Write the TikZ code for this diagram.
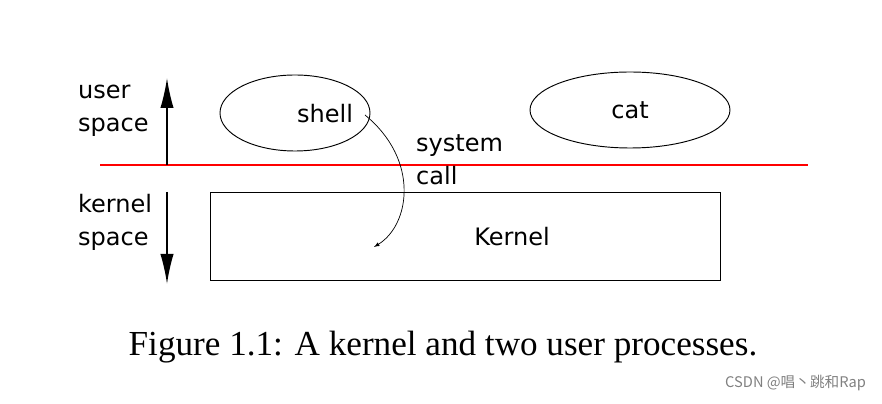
\documentclass[tikz,border=0pt]{standalone}
\usepackage{fontspec}
\setmainfont{Liberation Serif}
\newfontfamily\diagfont{DejaVu Sans}
\newfontfamily\cjkfont{Noto Sans CJK SC}
\usetikzlibrary{arrows,arrows.meta,positioning,shapes.geometric}
\begin{document}
\begin{tikzpicture}[x=0.03cm,y=-0.03cm,
     proc/.style = {draw, ellipse, thick, minimum width=150*0.03cm, minimum height=76*0.03cm},
     label/.style = {font=\diagfont\fontsize{20.5}{28}\selectfont, align=left},
     arrow/.style = {-latex, thick}
    ]
    \useasboundingbox (0,0) rectangle (882,404);
    \node [proc] (shell) at (295,113) {};
    \node [label] at (325,114) {shell};
    \node [proc, minimum width=200*0.03cm] (cat) at (630,110) {\diagfont\fontsize{20.5}{24}\selectfont cat};
    \draw [red, line width=1.6pt] (100,165) -- (808,165);
    \node [draw, thick, minimum width=510*0.03cm, minimum height=88*0.03cm] (kernel) at (465,236) {};
    \node [label] at (512,237) {Kernel};
    \node [label, anchor=west] (user) at (74,111) {user\\space};
    \node [label, anchor=west] (kspace) at (74,222) {kernel\\space};
    \node [label, anchor=west] (syscall) at (412,160) {system\\call};
    \coordinate (utop) at (167,78);
    \coordinate (ubot) at (167,165);
    \coordinate (ktop) at (167,192);
    \coordinate (kbot) at (167,284);
    \draw [-{Latex[length=9mm,width=4mm]}, line width=1.3pt] (ubot) -- (utop);
    \draw [-{Latex[length=9mm,width=4mm]}, line width=1.3pt] (ktop) -- (kbot);
    \coordinate (cstart) at (365,115);
    \coordinate (cend) at (374,247);
    \draw [-latex, semithick] (cstart) .. controls (420,160) and (410,225) .. (cend);
    \node (caption) at (443,347) {\fontsize{30}{34}\selectfont Figure 1.1: A kernel and two user processes.};
    \node [text=gray, anchor=east] (mark) at (870,383) {\cjkfont\fontsize{12.5}{15}\selectfont CSDN @唱丶跳和Rap};
\end{tikzpicture}
\end{document}
